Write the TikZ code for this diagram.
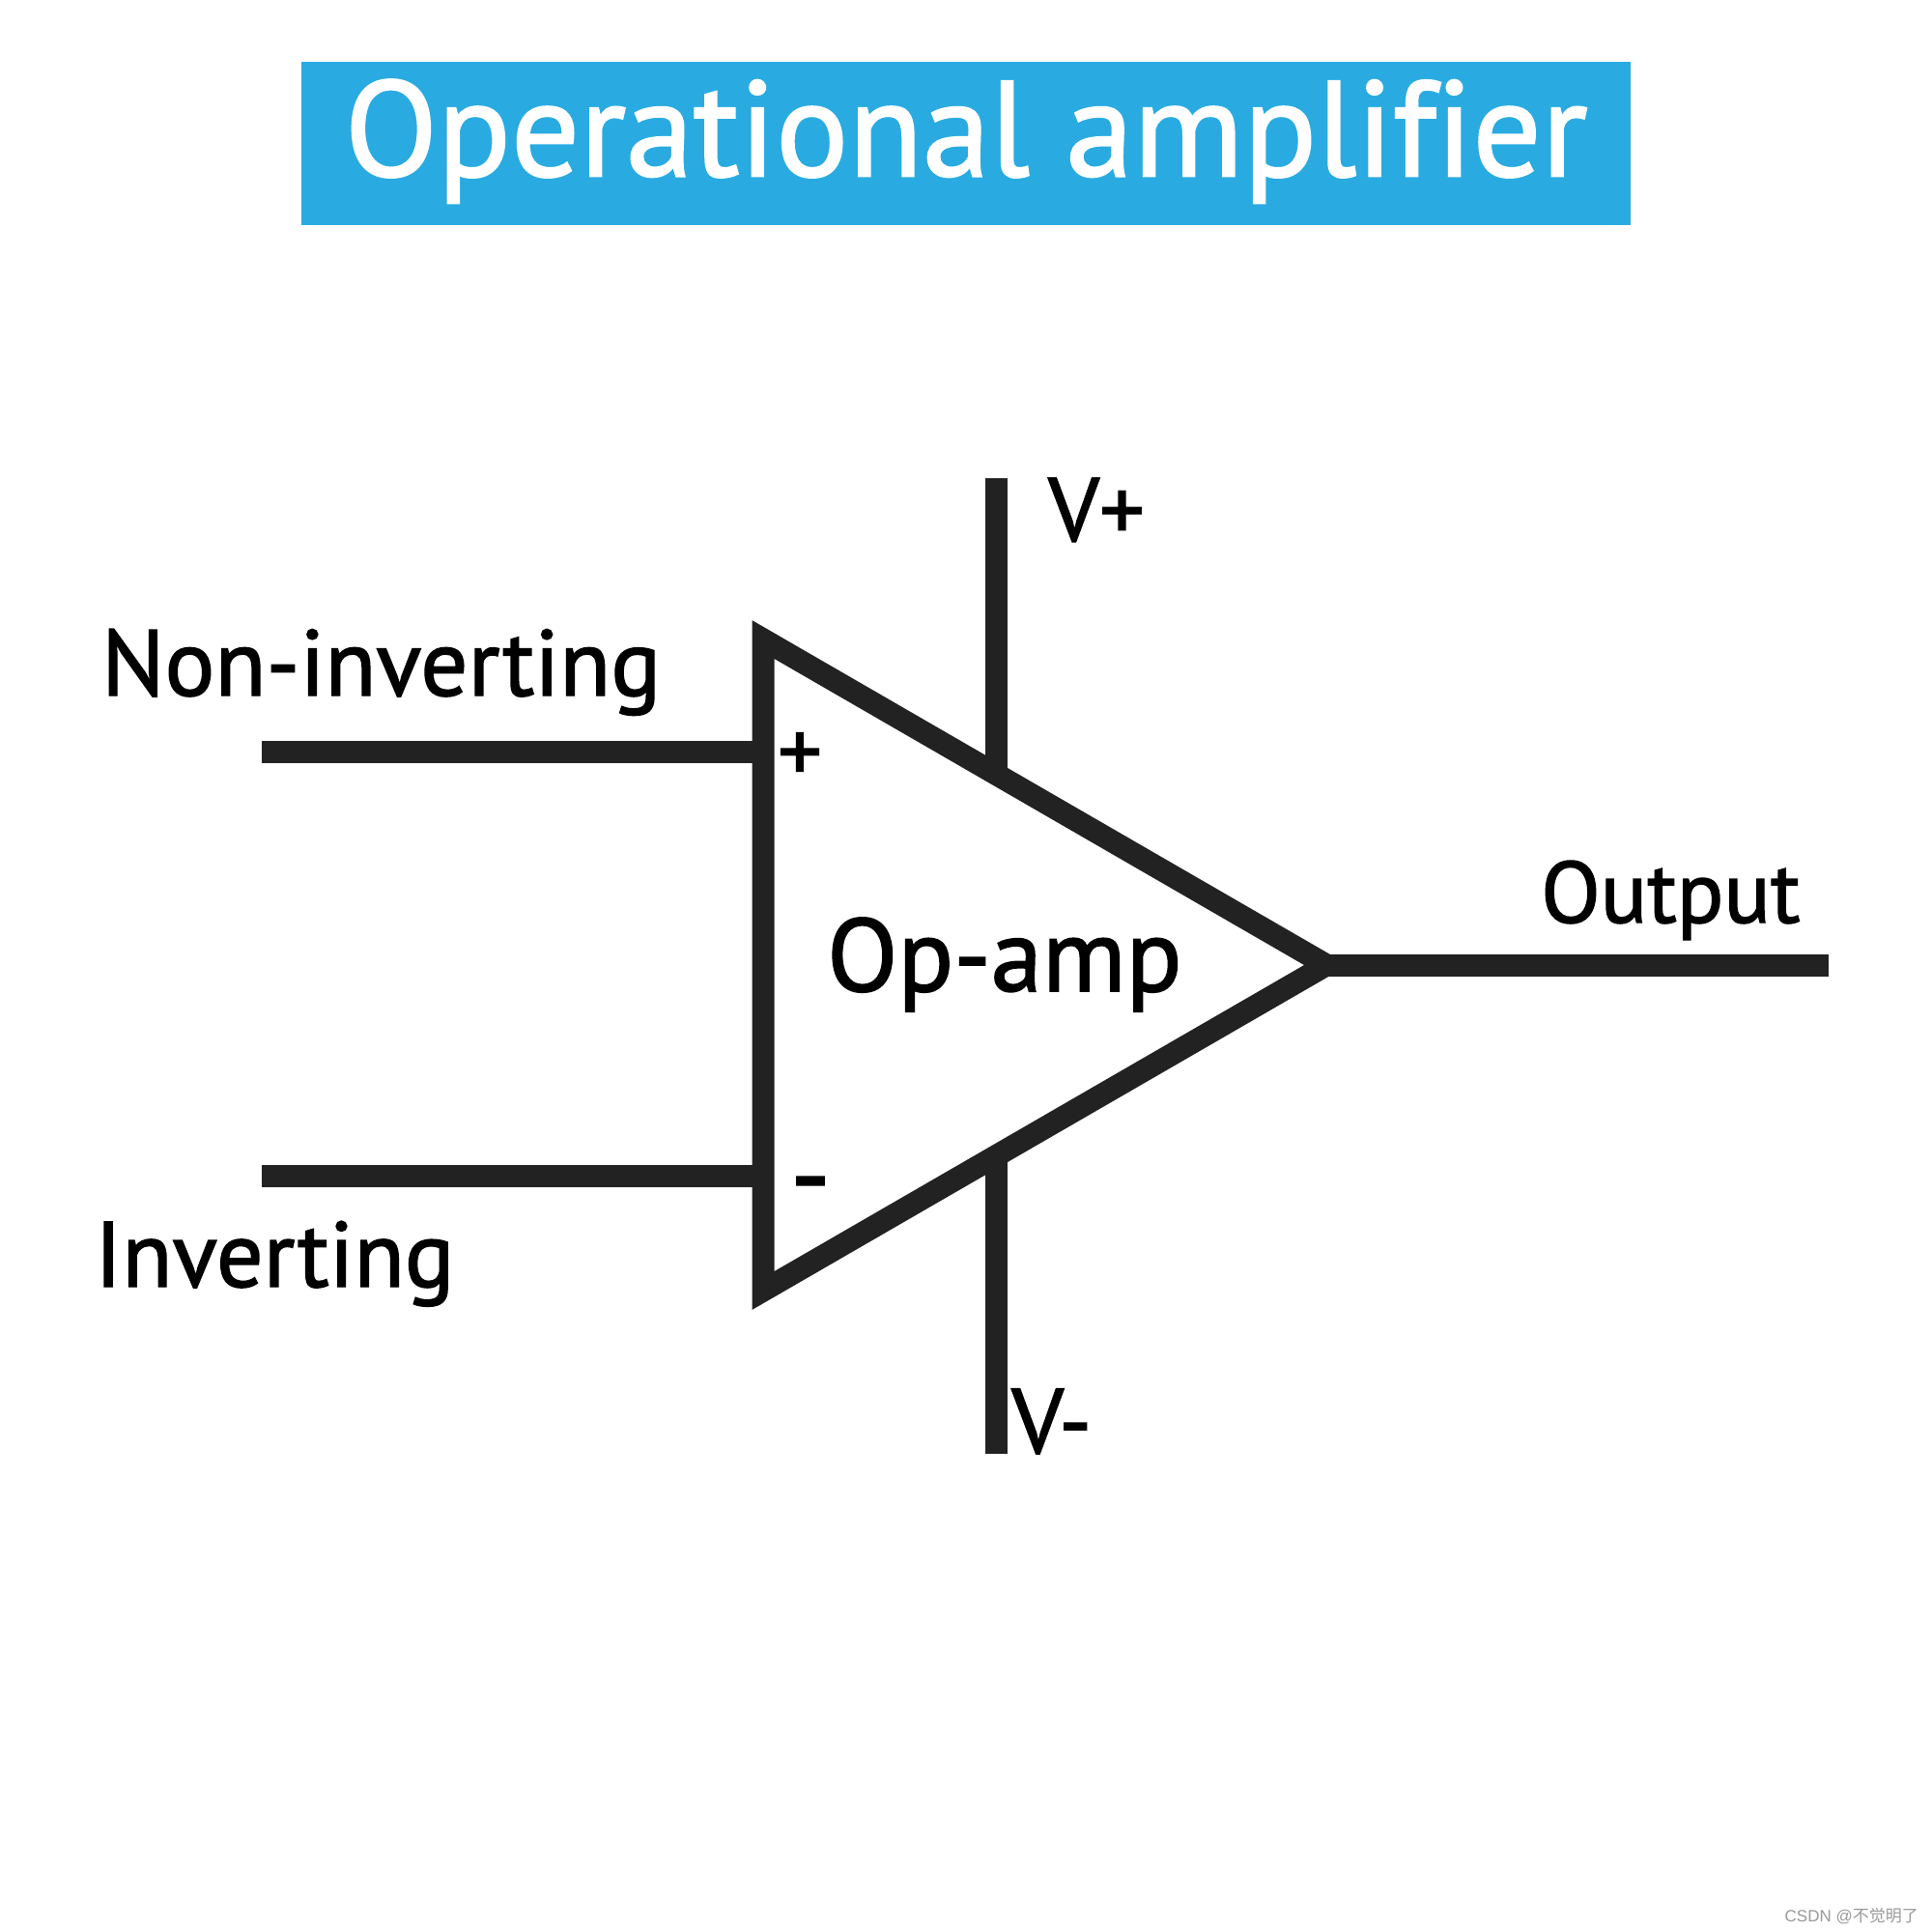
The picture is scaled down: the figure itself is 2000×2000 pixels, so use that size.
\documentclass[tikz,border=0pt]{standalone}
\usepackage{fontspec}
\setmainfont[Ligatures=NoCommon,FakeBold=1.5]{PT Sans}
\newfontfamily\cjk{Noto Sans CJK SC}
\newfontfamily\marksans{Liberation Sans}
\definecolor{bannerblue}{HTML}{29ABE2}
\definecolor{wirecolor}{HTML}{222222}
\tikzset{
    wire/.style={draw=wirecolor, line width=23pt},
    label/.style={inner sep=0pt, anchor=base west, text=black},
}
\newcommand{\fsize}[1]{\fontsize{#1}{#1}\selectfont}
\begin{document}
\begin{tikzpicture}[x=1pt, y=-1pt]
    \useasboundingbox[fill=white] (0,0) rectangle (2000,2000);
    \node[fill=bannerblue, minimum width=1376pt, inner sep=0pt, text height=118pt, text depth=51pt,
        anchor=north west, text=white, font=\fsize{140.5}] (banner) at (312,64) {Operational amplifier};
    \coordinate (top) at (790,662);
    \coordinate (bot) at (790,1336);
    \coordinate (apex) at (1373,999);
    \coordinate (vp) at (1031,495);
    \coordinate (vpin) at (1031,798);
    \coordinate (vm) at (1031,1505);
    \coordinate (vmin) at (1031,1198);
    \coordinate (nonin) at (271,778);
    \coordinate (nonend) at (790,778);
    \coordinate (inv) at (271,1217);
    \coordinate (invend) at (790,1217);
    \coordinate (out) at (1893,999);
    \draw[wire, miter limit=10] (top) -- (apex) -- (bot) -- cycle;
    \draw[wire] (nonin) -- (nonend);
    \draw[wire] (inv) -- (invend);
    \draw[wire] (apex) -- (out);
    \draw[wire] (vp) -- (vpin);
    \draw[wire] (vm) -- (vmin);
    \node[label, font=\fsize{97}] (nonlabel) at (105,720) {Non-inverting};
    \node[label, font=\fsize{96}] (invlabel) at (98,1332) {Inverting};
    \node[label, font=\fsize{90}] (outlabel) at (1595,955) {Output};
    \node[label, font=\fsize{93}] (vplus) at (1085,560) {V+};
    \node[label, font=\fsize{95}] (vminus) at (1047,1504) {V-};
    \node[label, font=\fsize{107}] (opamp) at (856,1026) {Op-amp};
    \node[inner sep=0pt, font=\fsize{92}] (plus) at (828,784) {+};
    \node[inner sep=0pt, font=\fsize{115}] (minus) at (839,1237) {-};
    \node[inner sep=0pt, anchor=base east, text=black!40, font=\fsize{17}] (mark) at (1986,1989) {\marksans CSDN @\cjk 不觉明了};
\end{tikzpicture}
\end{document}
